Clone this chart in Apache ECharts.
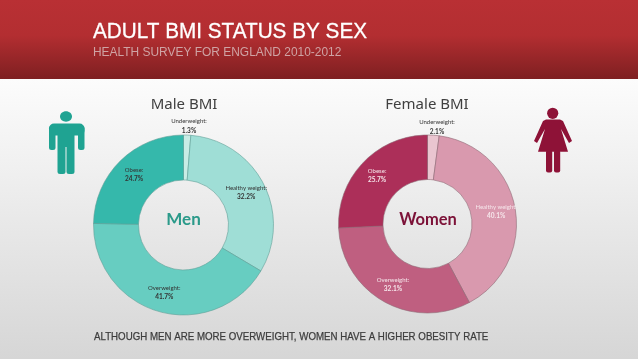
<!DOCTYPE html>
<html><head><meta charset="utf-8">
<style>html,body{margin:0;padding:0;background:#fff}#c{width:638px;height:359px}</style>
<script src="https://cdn.jsdelivr.net/npm/echarts@6/dist/echarts.min.js"></script>
</head><body><div id="c"></div>
<script>
const categories = ['Underweight:', 'Healthy weight:', 'Overweight:', 'Obese:'];
const maleValues = [1.3, 32.2, 41.7, 24.7];
const femaleValues = [2.1, 40.1, 32.1, 25.7];
const maleColors = ['#c8ece5', '#9fded6', '#67cdc1', '#35b8ab'];
const femaleColors = ['#eac5d0', '#d999ae', '#bf5f80', '#ac2f59'];
const femaleLabelColors = ['#333333', '#f6e6eb', '#f6e6eb', '#f6e6eb'];
const maleLabelColors = ['#333333', '#333333', '#333333', '#333333'];
const FONT = 'Lato';

function makeSeries(values, colors, labelColors, center, radius, borderColor, underX, underY) {
  return {
    type: 'pie', center, radius, startAngle: 90, clockwise: true, silent: true,
    animation: false, minAngle: 0, avoidLabelOverlap: false,
    itemStyle: { borderColor, borderWidth: 0.6 },
    labelLine: { show: false },
    labelLayout: p => p.dataIndex === 0 ? { x: underX, y: underY, align: 'center', verticalAlign: 'middle' } : {},
    data: categories.map((name, i) => ({
      name, value: values[i],
      itemStyle: { color: colors[i] },
      label: {
        show: true, position: i === 0 ? 'outside' : 'inside',
        formatter: p => '{n|' + p.name + '}\n{v|' + p.value.toFixed(1) + '%}',
        rich: {
          n: { fontFamily: FONT, fontSize: 6, color: labelColors[i], lineHeight: 9, align: 'center' },
          v: { fontFamily: FONT, fontSize: 6.5, fontWeight: 'bold', color: labelColors[i], lineHeight: 9, align: 'center' }
        }
      }
    }))
  };
}

function txt(x, y, text, font, fill, extra, scaleX) {
  return { type: 'text', x, y, silent: true, scaleX: scaleX || 1,
    style: Object.assign({ text, font, fill, textVerticalAlign: 'middle' }, extra || {}) };
}
const rr = (x, y, w, h, r, fill) => ({ type: 'rect', silent: true, shape: { x, y, width: w, height: h, r }, style: { fill } });

const teal = '#1fa392', wine = '#8e1237';
const graphic = [
  { type: 'rect', z: -10, silent: true, shape: { x: 0, y: 79, width: 638, height: 280 },
    style: { fill: new echarts.graphic.LinearGradient(0, 0, 0, 1, [{ offset: 0, color: '#fcfcfc' }, { offset: 1, color: '#d6d6d6' }]) } },
  { type: 'rect', z: -10, silent: true, shape: { x: 0, y: 0, width: 638, height: 79 },
    style: { fill: new echarts.graphic.LinearGradient(0, 0, 0, 1, [{ offset: 0, color: '#b93034' }, { offset: 0.45, color: '#b32e31' }, { offset: 1, color: '#7e1f21' }]) } },
  txt(93, 31.5, 'ADULT BMI STATUS BY SEX', '22px "Liberation Sans"', '#ffffff', { stroke: '#ffffff', lineWidth: 0.3 }, 0.942),
  txt(93, 52.5, 'HEALTH SURVEY FOR ENGLAND 2010-2012', '12px "Liberation Sans"', '#cfa3a4', null, 0.995),
  txt(184, 105, 'Male BMI', '15px "Noto Sans"', '#404040', { textAlign: 'center' }),
  txt(427, 105, 'Female BMI', '15px "Noto Sans"', '#404040', { textAlign: 'center' }),
  txt(183.5, 220, 'Men', 'bold 17px Lato', '#2b9a8a', { textAlign: 'center' }),
  txt(428, 220, 'Women', 'bold 16.5px Lato', '#7c1238', { textAlign: 'center' }),
  txt(94, 337, 'ALTHOUGH MEN ARE MORE OVERWEIGHT, WOMEN HAVE A HIGHER OBESITY RATE', '11px "Liberation Sans"', '#3c3c3c', { stroke: '#3c3c3c', lineWidth: 0.25 }, 0.883),
  // male icon
  { type: 'ellipse', silent: true, shape: { cx: 66, cy: 116.5, rx: 6, ry: 5.2 }, style: { fill: teal } },
  rr(49, 123.5, 35.5, 12, 5, teal),
  rr(49, 126, 6.5, 24, 2.5, teal),
  rr(78, 126, 6.5, 24, 2.5, teal),
  rr(57.5, 126, 8, 48, 2.5, teal),
  rr(66.5, 126, 8, 48, 2.5, teal),
  rr(60, 126, 12, 21, 0, teal),
  // female icon
  { type: 'circle', silent: true, shape: { cx: 552.7, cy: 113.3, r: 5.6 }, style: { fill: wine } },
  { type: 'polygon', silent: true, shape: { points: [[546, 119.5], [560, 119.5], [563, 121], [572, 141], [569, 143], [561, 129], [568, 151.7], [538, 151.7], [545, 129], [537, 143], [534, 141], [543, 121]] }, style: { fill: wine } },
  rr(546, 150, 6.2, 22.5, 2, wine),
  rr(554, 150, 6.2, 22.5, 2, wine)
];

const chart = echarts.init(document.getElementById('c'), null, { renderer: 'canvas' });
chart.setOption({
  animation: false,
  graphic,
  series: [
    makeSeries(maleValues, maleColors, maleLabelColors, [183.5, 225], [45, 90], '#5f9f97', 189, 126),
    makeSeries(femaleValues, femaleColors, femaleLabelColors, [427.5, 224], [44.5, 89], '#8e6a75', 437, 127)
  ]
});
</script></body></html>
